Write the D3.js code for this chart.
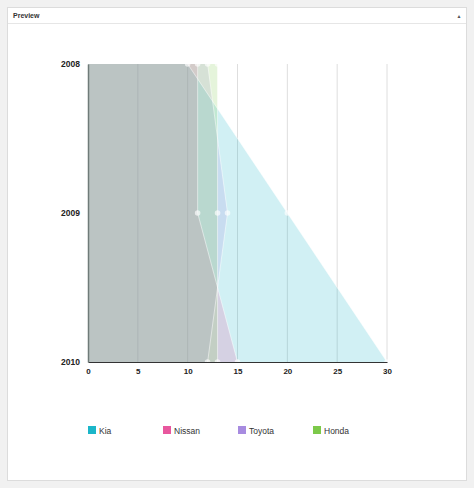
<!DOCTYPE html>
<html>
<head>
<meta charset="utf-8">
<script src="https://cdn.jsdelivr.net/npm/d3@7"></script>
<style>
  body { margin: 0; background: #f1f1f1; font-family: "Liberation Sans", Arial, sans-serif; }
  svg { display: block; }
</style>
</head>
<body>
<svg id="chart" width="474" height="488"></svg>
<script>
// chart values
const years = [2008, 2009, 2010];
const seriesNames = ["Kia", "Nissan", "Toyota", "Honda"];
const kia = [10, 20, 30];
const nissan = [11, 11, 15];
const toyota = [12, 14, 12];
const honda = [13, 13, 13];
const colors = ["#1bb6c9", "#e8579e", "#a78be0", "#7cc94a"];
const xTicks = [0, 5, 10, 15, 20, 25, 30];

const series = [kia, nissan, toyota, honda].map((vals, i) => ({
    name: seriesNames[i],
    color: colors[i],
    points: vals.map((v, j) => ({ year: years[j], value: v }))
}));

const svg = d3.select("#chart");

// preview panel
svg.append("rect")
    .attr("x", 7.5).attr("y", 7.5).attr("width", 459).attr("height", 473)
    .attr("fill", "#fff").attr("stroke", "#dcdcdc");
svg.append("line")
    .attr("x1", 8).attr("x2", 466).attr("y1", 23.5).attr("y2", 23.5)
    .attr("stroke", "#e6e6e6");
svg.append("text")
    .attr("x", 13).attr("y", 18)
    .attr("font-size", 7).attr("font-weight", "bold").attr("fill", "#333")
    .text("Preview");
svg.append("text")
    .attr("x", 459).attr("y", 18)
    .attr("font-size", 5).attr("fill", "#555").attr("text-anchor", "middle")
    .text("▲");

const x = d3.scaleLinear().domain([0, 30]).range([88, 387]);
const y = d3.scaleLinear().domain([2008, 2010]).range([64, 362]);

// vertical grid
svg.append("g")
    .selectAll("line")
    .data(xTicks.slice(1))
    .join("line")
    .attr("x1", d => x(d)).attr("x2", d => x(d))
    .attr("y1", y(2008)).attr("y2", y(2010))
    .attr("stroke", "#dedede");

const area = d3.area()
    .y(d => y(d.year))
    .x0(x(0))
    .x1(d => x(d.value));

const line = d3.line()
    .y(d => y(d.year))
    .x(d => x(d.value));

// keep marks inside the plot box (top markers get cut like the original)
svg.append("clipPath").attr("id", "plot")
    .append("rect")
    .attr("x", x(0)).attr("y", y(2008))
    .attr("width", x(30) - x(0) + 4).attr("height", y(2010) - y(2008));

const layers = svg.append("g").attr("clip-path", "url(#plot)");
series.forEach(s => {
    layers.append("path")
        .datum(s.points)
        .attr("d", area)
        .attr("fill", s.color)
        .attr("fill-opacity", 0.2);
});
series.forEach(s => {
    layers.append("path")
        .datum(s.points)
        .attr("d", line)
        .attr("fill", "none")
        .attr("stroke", "#fff")
        .attr("stroke-opacity", 0.5)
        .attr("stroke-width", 1);
});
series.forEach(s => {
    layers.selectAll(null)
        .data(s.points)
        .join("circle")
        .attr("cx", d => x(d.value))
        .attr("cy", d => y(d.year))
        .attr("r", 2.8)
        .attr("fill", "#fff")
        .attr("fill-opacity", 0.65);
});

// axes
const xAxis = svg.append("g")
    .attr("transform", `translate(0,${y(2010)})`)
    .call(d3.axisBottom(x).tickValues(xTicks).tickSize(0).tickPadding(6));
xAxis.select(".domain").attr("stroke", "#333").attr("stroke-width", 1.2);
xAxis.selectAll("text")
    .attr("font-family", "Liberation Sans, Arial, sans-serif")
    .attr("font-size", 8).attr("font-weight", "bold").attr("fill", "#222");

const yAxis = svg.append("g")
    .attr("transform", `translate(${x(0)},0)`)
    .call(d3.axisLeft(y).tickValues(years).tickFormat(d3.format("d")).tickSize(0).tickPadding(8));
yAxis.select(".domain").attr("stroke", "#6f7b79").attr("stroke-width", 1.5);
yAxis.selectAll("text")
    .attr("font-family", "Liberation Sans, Arial, sans-serif")
    .attr("font-size", 8.5).attr("font-weight", "bold").attr("fill", "#222");

// legend
const legend = svg.append("g")
    .selectAll("g")
    .data(series)
    .join("g")
    .attr("transform", (d, i) => `translate(${88 + i * 75},426)`);
legend.append("rect")
    .attr("width", 8).attr("height", 8)
    .attr("fill", d => d.color);
legend.append("text")
    .attr("x", 11).attr("y", 7.5)
    .attr("font-size", 8.5).attr("fill", "#333")
    .text(d => d.name);
</script>
</body>
</html>
